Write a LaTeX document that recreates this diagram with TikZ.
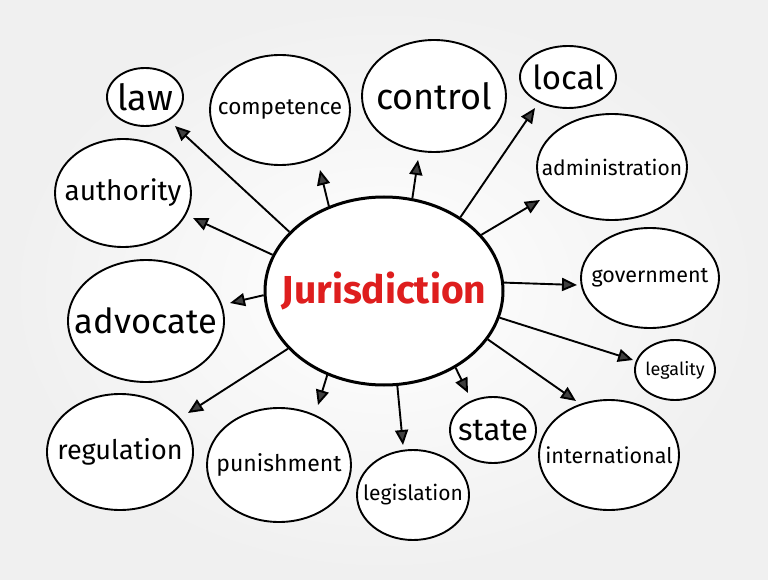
\documentclass[tikz,border=0pt]{standalone}
\usepackage{fontspec}
\setmainfont{Fira Sans}
\usetikzlibrary{shapes.geometric,arrows.meta}
\definecolor{jurred}{RGB}{222,30,30}
\tikzset{
  bubble/.style={draw, ellipse, line width=1.9pt, fill=white, inner sep=0pt},
  ray/.style={line width=1.9pt, -{Triangle[length=15pt,width=13pt,fill=black!75]}},
}
\newcommand{\fs}[1]{\fontsize{#1}{#1}\selectfont}

\begin{document}
\begin{tikzpicture}[x=1pt, y=-1pt]
  % background
  \shade[inner color=white, outer color=black!6] (0,0) rectangle (768,580);
  \useasboundingbox (0,0) rectangle (768,580);

  % centre
  \node[bubble, line width=3pt, minimum width=238pt, minimum height=188pt,
    label={[font=\fs{39}\bfseries, text=jurred]center:Jurisdiction}] (jur) at (384,291) {};

  % bubbles
  \node[bubble, minimum width=76pt, minimum height=58pt, label={[font=\fs{36}]center:law}] (law) at (145,97) {};
  \node[bubble, minimum width=140pt, minimum height=110pt, label={[font=\fs{22.5}]center:competence}] (comp) at (280,110) {};
  \node[bubble, minimum width=144pt, minimum height=112pt, label={[font=\fs{36}]center:control}] (ctrl) at (434,96) {};
  \node[bubble, minimum width=96pt, minimum height=62pt, label={[font=\fs{33}]center:local}] (loc) at (568,77) {};
  \node[bubble, minimum width=150pt, minimum height=106pt, label={[font=\fs{21}]center:administration}] (adm) at (612,167) {};
  \node[bubble, minimum width=136pt, minimum height=108pt, label={[font=\fs{28}]center:authority}] (auth) at (123,193) {};
  \node[bubble, minimum width=138pt, minimum height=100pt, label={[font=\fs{21.5}]center:government}] (gov) at (650,278) {};
  \node[bubble, minimum width=156pt, minimum height=122pt, label={[font=\fs{34.5}]center:advocate}] (adv) at (146,321) {};
  \node[bubble, minimum width=80pt, minimum height=60pt, label={[font=\fs{18}]center:legality}] (legal) at (675,370) {};
  \node[bubble, minimum width=146pt, minimum height=116pt, label={[font=\fs{27}]center:regulation}] (reg) at (120,452) {};
  \node[bubble, minimum width=144pt, minimum height=114pt, label={[font=\fs{23}]center:punishment}] (pun) at (279,465) {};
  \node[bubble, minimum width=112pt, minimum height=90pt, label={[font=\fs{21}]center:legislation}] (legis) at (413,495) {};
  \node[bubble, minimum width=86pt, minimum height=66pt, label={[font=\fs{31}]center:state}] (st) at (493,430) {};
  \node[bubble, minimum width=140pt, minimum height=110pt, label={[font=\fs{21.5}]center:international}] (intl) at (609,455) {};

  % arrow tips
  \coordinate (t-law) at (175,126);
  \coordinate (t-comp) at (320,170);
  \coordinate (t-ctrl) at (418,160);
  \coordinate (t-loc) at (535,108);
  \coordinate (t-adm) at (540,200);
  \coordinate (t-auth) at (193,218);
  \coordinate (t-gov) at (577,285);
  \coordinate (t-adv) at (230,303);
  \coordinate (t-legal) at (633,360);
  \coordinate (t-reg) at (188,413);
  \coordinate (t-pun) at (318,405);
  \coordinate (t-legis) at (403,445);
  \coordinate (t-st) at (468,393);
  \coordinate (t-intl) at (576,401);

  % arrows
  \draw[ray] (jur.148) -- (t-law);
  \draw[ray] (jur.123) -- (t-comp);
  \draw[ray] (jur.73) -- (t-ctrl);
  \draw[ray] (jur.44) -- (t-loc);
  \draw[ray] (jur.30) -- (t-adm);
  \draw[ray] (jur.162) -- (t-auth);
  \draw[ray] (jur.4) -- (t-gov);
  \draw[ray] (jur.182) -- (t-adv);
  \draw[ray] (jur.-13) -- (t-legal);
  \draw[ray] (jur.211) -- (t-reg);
  \draw[ray] (jur.236) -- (t-pun);
  \draw[ray] (jur.278) -- (t-legis);
  \draw[ray] (jur.313) -- (t-st);
  \draw[ray] (jur.335) -- (t-intl);
\end{tikzpicture}
\end{document}
